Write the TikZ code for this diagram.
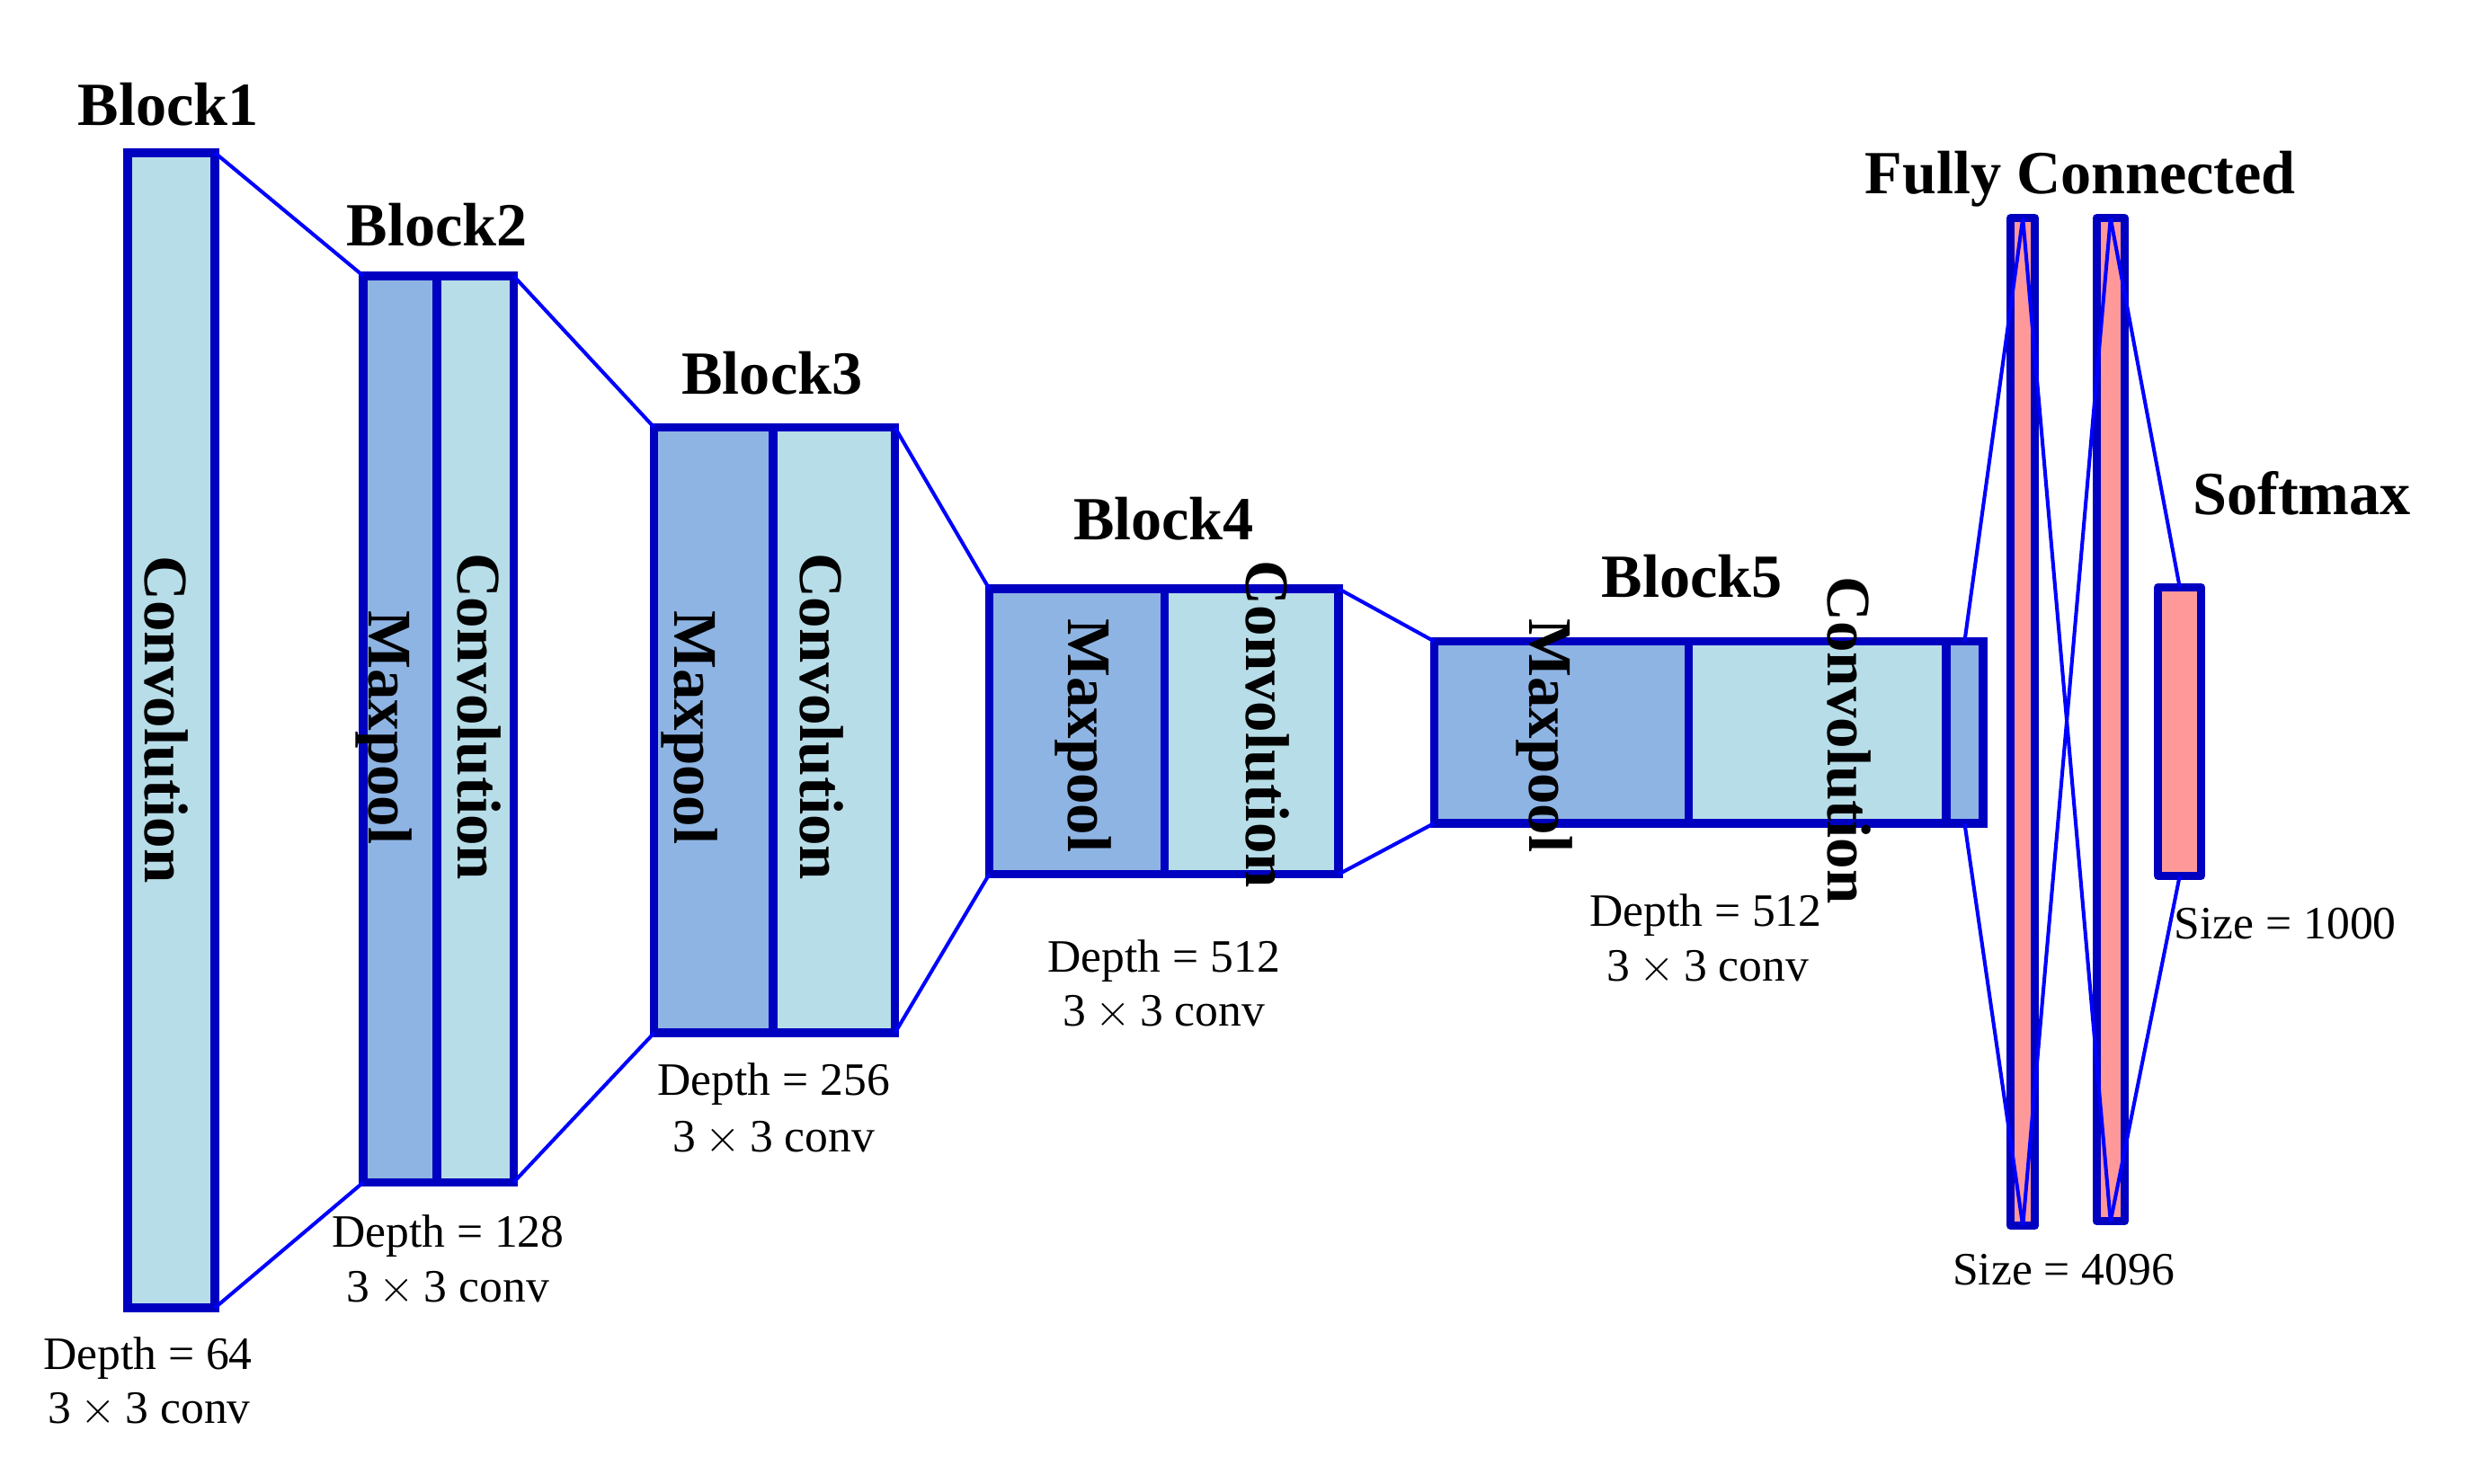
\documentclass[tikz,border=0pt]{standalone}
\usepackage{fontspec}
\setmainfont{Liberation Serif}
\usetikzlibrary{fit}
\definecolor{bordblue}{RGB}{0,0,192}
\definecolor{linkblue}{RGB}{0,0,255}
\definecolor{convfill}{RGB}{183,221,232}
\definecolor{poolfill}{RGB}{142,180,227}
\definecolor{fcfill}{RGB}{255,153,153}
\newcommand{\tbt}{3\hspace{0.2em}$\times$\hspace{0.2em}3 conv}
\begin{document}
\begin{tikzpicture}[x=0.5pt,y=-0.5pt,
 box/.style={draw=bordblue, line width=2.7pt, inner sep=0pt, outer sep=0pt},
 convbox/.style={box, fill=convfill},
 poolbox/.style={box, fill=poolfill},
 fcbox/.style={draw=bordblue, line width=2.55pt, line join=round, fill=fcfill, inner sep=0pt, outer sep=0pt},
 conn/.style={draw=linkblue, line width=1.15pt},
 title/.style={font=\fontsize{19.3}{23}\selectfont\bfseries, anchor=base, inner sep=0pt},
 vlabel/.style={font=\fontsize{19.5}{23}\selectfont\bfseries, rotate=-90, inner sep=0pt, anchor=center},
 note/.style={font=\fontsize{14.6}{17}\selectfont, anchor=base, inner sep=0pt}]
\useasboundingbox (0,0) rectangle (1568,933.7);
% blocks
\node[convbox, fit={(80.2,96.2)(135.3,823.3)}] (b1) {};
\node[poolbox, fit={(228.7,173.7)(275,744.3)}] (b2m) {};
\node[convbox, fit={(275,173.7)(323.3,744.3)}] (b2c) {};
\node[poolbox, fit={(411.7,269)(486.5,650.3)}] (b3m) {};
\node[convbox, fit={(486.5,269)(563.3,650.3)}] (b3c) {};
\node[poolbox, fit={(622.7,370.7)(733,550.3)}] (b4m) {};
\node[convbox, fit={(733,370.7)(842.7,550.3)}] (b4c) {};
\node[poolbox, fit={(902.7,403.7)(1063,518.3)}] (b5m) {};
\node[convbox, fit={(1063,403.7)(1225,518.3)}] (b5c) {};
\node[poolbox, fit={(1225,403.7)(1248.3,518.3)}] (b5e) {};
\node[fcbox, fit={(1265.6,137.3)(1281,771.7)}] (fc1) {};
\node[fcbox, fit={(1319.6,137.3)(1337.4,768.9)}] (fc2) {};
\node[fcbox, fit={(1358.5,369.5)(1385.5,551.5)}] (sm) {};
% connectors
\draw[conn] (b1.north east) -- (b2m.north west);
\draw[conn] (b1.south east) -- (b2m.south west);
\draw[conn] (b2c.north east) -- (b3m.north west);
\draw[conn] (b2c.south east) -- (b3m.south west);
\draw[conn] (b3c.north east) -- (b4m.north west);
\draw[conn] (b3c.south east) -- (b4m.south west);
\draw[conn] (b4c.north east) -- (b5m.north west);
\draw[conn] (b4c.south east) -- (b5m.south west);
\draw[conn] (b5e.north) -- (fc1.north);
\draw[conn] (b5e.south) -- (fc1.south);
\draw[conn] (fc1.north) -- (fc2.south);
\draw[conn] (fc1.south) -- (fc2.north);
\draw[conn] (fc2.north) -- (sm.north);
\draw[conn] (fc2.south) -- (sm.south);
% titles
\node[title] (t1) at (106,79) {Block1};
\node[title] (t2) at (275,155) {Block2};
\node[title] (t3) at (486,248) {Block3};
\node[title] (t4) at (732.5,340) {Block4};
\node[title] (t5) at (1065,376) {Block5};
\node[title] (tfc) at (1309.5,122) {Fully Connected};
\node[title] (tsm) at (1449,324) {Softmax};
% rotated labels
\node[vlabel] (l1) at (104.7,453) {Convolution};
\node[vlabel] (l2m) at (241.8,458) {Maxpool};
\node[vlabel] (l2c) at (301.5,451) {Convolution};
\node[vlabel] (l3m) at (434,458) {Maxpool};
\node[vlabel] (l3c) at (517,451) {Convolution};
\node[vlabel] (l4m) at (682,463) {Maxpool};
\node[vlabel] (l4c) at (798,456) {Convolution};
\node[vlabel] (l5m) at (972,463) {Maxpool};
\node[vlabel] (l5c) at (1164,466) {Convolution};
% notes
\node[note] (d1a) at (93,862) {Depth = 64};
\node[note] (d1b) at (94,896) {\tbt};
\node[note] (d2a) at (282,785) {Depth = 128};
\node[note] (d2b) at (282,819.5) {\tbt};
\node[note] (d3a) at (487,689.7) {Depth = 256};
\node[note] (d3b) at (487,725) {\tbt};
\node[note] (d4a) at (732.6,612) {Depth = 512};
\node[note] (d4b) at (732.6,646) {\tbt};
\node[note] (d5a) at (1073.6,583) {Depth = 512};
\node[note] (d5b) at (1075,617.5) {\tbt};
\node[note] (s1) at (1299,809) {Size = 4096};
\node[note] (s2) at (1438.5,591) {Size = 1000};
\end{tikzpicture}
\end{document}
